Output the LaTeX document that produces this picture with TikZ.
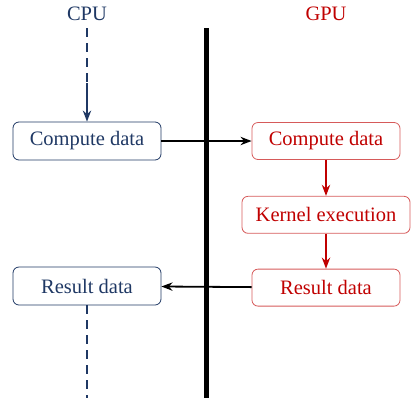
\documentclass[tikz,border=0pt]{standalone}
\usepackage{fontspec}
\setmainfont{Liberation Serif}
\usetikzlibrary{arrows.meta, positioning}
\definecolor{cpublue}{RGB}{31,56,100}
\definecolor{gpured}{RGB}{192,0,0}
\definecolor{gpuedge}{RGB}{214,90,90}

\begin{document}
\begin{tikzpicture}[x=1pt, y=-1pt, >=Stealth, font=\fontsize{20.5}{24}\selectfont]

  % Define styles
  \tikzstyle{cpubox} = [rectangle, rounded corners=6pt, minimum width=148pt, minimum height=38pt, text centered, draw=cpublue, text=cpublue, line width=0.8pt]
  \tikzstyle{gpubox} = [rectangle, rounded corners=6pt, minimum width=148pt, minimum height=37pt, text centered, draw=gpuedge, text=gpured, line width=0.8pt]
  \tikzstyle{arrow} = [line width=1.8pt, ->]
  \tikzstyle{redarrow} = [line width=1.8pt, ->, gpured]
  \tikzstyle{dashline} = [line width=2.4pt, cpublue, dash pattern=on 9pt off 6pt]

  \useasboundingbox (0,0) rectangle (417,408);

  % Place nodes
  \node [text=cpublue] (cpu) at (87,14) {CPU};
  \node [text=gpured] (gpu) at (326,14) {GPU};
  \node [cpubox] (cpucompute) at (87,141) {Compute data};
  \node [gpubox] (gpucompute) at (326,141) {Compute data};
  \node [gpubox, minimum width=168pt, below=36pt of gpucompute] (kernel) {Kernel execution};
  \node [gpubox, below=35pt of kernel] (gpuresult) {Result data};
  \node [cpubox] (cpuresult) at (87,286) {Result data};
  \coordinate (bustop) at (206,28);
  \coordinate (busbottom) at (206,398);
  \coordinate (cpustart) at (87,28);
  \coordinate (cpubreak) at (87,83);
  \coordinate (cpuend) at (87,398);

  % Draw edges
  \draw [line width=5pt] (bustop) -- (busbottom);
  \draw [dashline] (cpustart) -- (cpubreak);
  \draw [arrow, cpublue] (cpubreak) -- (cpucompute);
  \draw [arrow] (cpucompute) -- (gpucompute);
  \draw [redarrow] (gpucompute) -- (kernel);
  \draw [redarrow] (kernel) -- (gpuresult);
  \draw [arrow] (gpuresult) -- (cpuresult);
  \draw [dashline] (cpuresult) -- (cpuend);

\end{tikzpicture}
\end{document}
